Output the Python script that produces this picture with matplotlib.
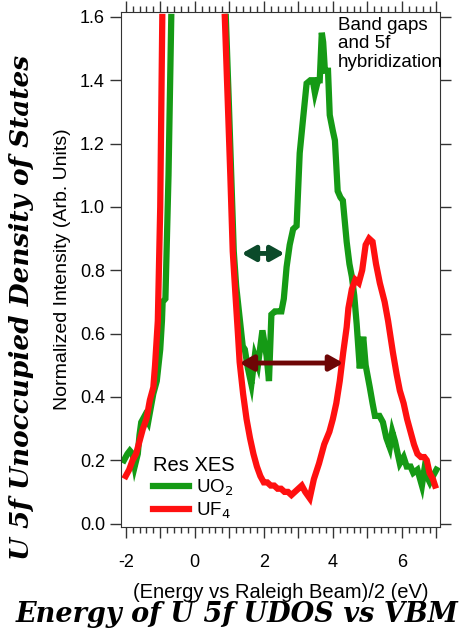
import matplotlib
matplotlib.use("Agg")
import matplotlib.pyplot as plt
import numpy as np
from matplotlib.ticker import MultipleLocator, FixedLocator, FuncFormatter

# -----------------------------
# Data
# -----------------------------

nan = np.nan

uo2_x = [-2.05, -1.95, -1.88, -1.8, -1.74, -1.65, -1.6, -1.55, -1.45, -1.35, -1.25, -1.2, -1.1,
         -1.0, -0.95, -0.93, -0.85, -0.76, -0.68, nan,
         0.9, 0.99, 1.13, 1.2, 1.3, 1.39, 1.45, 1.54, 1.64, 1.74, 1.83, 1.96, 2.08, 2.15, 2.22,
         2.32, 2.41, 2.51, 2.58, 2.66, 2.75, 2.85, 2.95, 3.04, 3.13, 3.24, 3.35, 3.42, 3.48, 3.57,
         3.62, 3.68, 3.72, 3.77, 3.86, 3.91, 4.0, 4.06, 4.14, 4.22, 4.29, 4.4, 4.48, 4.55, 4.62,
         4.69, 4.78, 4.83, 4.88, 4.95, 5.07, 5.15, 5.22, 5.35, 5.45, 5.55, 5.65, 5.72, 5.8, 5.88,
         5.94, 6.05, 6.14, 6.25, 6.33, 6.45, 6.58, 6.65, 6.72, 6.81, 6.9, 7.0]
uo2_y = [0.2, 0.22, 0.23, 0.22, 0.18, 0.22, 0.28, 0.32, 0.34, 0.32, 0.38, 0.41, 0.45,
         0.55, 0.64, 0.7, 0.71, 1.1, 1.6, nan,
         1.6, 1.32, 0.86, 0.75, 0.65, 0.56, 0.55, 0.49, 0.44, 0.53, 0.5, 0.61, 0.53, 0.45, 0.66,
         0.67, 0.67, 0.67, 0.71, 0.81, 0.88, 0.93, 0.94, 1.17, 1.27, 1.39, 1.40, 1.40, 1.36, 1.40,
         1.40, 1.55, 1.52, 1.43, 1.43, 1.29, 1.24, 1.21, 1.05, 1.03, 1.02, 0.89, 0.82, 0.78, 0.72,
         0.63, 0.49, 0.55, 0.59, 0.5, 0.43, 0.38, 0.34, 0.34, 0.32, 0.27, 0.24, 0.29, 0.26, 0.22,
         0.19, 0.21, 0.18, 0.18, 0.16, 0.17, 0.12, 0.17, 0.15, 0.13, 0.15, 0.17]

uf4_x = [-2.0, -1.9, -1.8, -1.7, -1.6, -1.5, -1.4, -1.3, -1.2, -1.15, -1.07, -1.0, -0.94, nan,
         0.87, 0.96, 1.03, 1.1, 1.18, 1.25, 1.3, 1.4, 1.5, 1.6, 1.7, 1.8, 1.9, 2.0, 2.1, 2.2,
         2.3, 2.4, 2.5, 2.6, 2.7, 2.8, 2.9, 3.0, 3.1, 3.2, 3.33, 3.45, 3.6, 3.75, 3.9, 4.0, 4.1,
         4.2, 4.3, 4.4, 4.45, 4.55, 4.65, 4.75, 4.85, 4.95, 5.05, 5.15, 5.25, 5.36, 5.5, 5.6,
         5.74, 5.85, 5.94, 6.05, 6.15, 6.25, 6.35, 6.45, 6.55, 6.65, 6.72, 6.8, 6.9, 6.96]
uf4_y = [0.15, 0.17, 0.2, 0.22, 0.26, 0.3, 0.33, 0.39, 0.43, 0.5, 0.64, 1.0, 1.6, nan,
         1.6, 1.32, 1.1, 0.86, 0.72, 0.6, 0.51, 0.41, 0.33, 0.27, 0.22, 0.18, 0.15, 0.13, 0.13, 0.12,
         0.12, 0.11, 0.11, 0.1, 0.1, 0.09, 0.1, 0.11, 0.12, 0.1, 0.08, 0.14, 0.19, 0.25, 0.29, 0.33, 0.38,
         0.45, 0.54, 0.62, 0.68, 0.74, 0.77, 0.76, 0.8, 0.88, 0.9, 0.89, 0.82, 0.76, 0.7, 0.64,
         0.54, 0.47, 0.42, 0.38, 0.33, 0.29, 0.25, 0.22, 0.21, 0.21, 0.2, 0.16, 0.14, 0.12]

# band gap arrows: (x_start, x_end, y)
gap_uo2 = (1.36, 2.6, 0.853)
gap_uf4 = (1.3, 4.3, 0.507)

GREEN = "#159a15"
RED = "#ff1010"

# -----------------------------
# Figure
# -----------------------------

plt.rcParams["font.family"] = ["Liberation Sans", "DejaVu Sans"]

fig = plt.figure(figsize=(4.74, 6.4), dpi=100)
ax = fig.add_axes([0.255, 0.177, 0.673, 0.804])

ax.plot(uo2_x, uo2_y, color=GREEN, lw=4.5, solid_joinstyle="miter", label="UO$_2$")
ax.plot(uf4_x, uf4_y, color=RED, lw=4.5, solid_joinstyle="miter", label="UF$_4$")

ax.set_xlim(-2.14, 7.1)
ax.set_ylim(-0.01, 1.615)

# ticks: out on all four sides, labels only bottom / left
ax.xaxis.set_major_locator(FixedLocator(np.arange(-2, 8, 1)))
ax.xaxis.set_major_formatter(FuncFormatter(lambda v, p: "" if int(round(v)) % 2 else f"{int(round(v))}"))
ax.xaxis.set_minor_locator(MultipleLocator(0.2))
ax.yaxis.set_major_locator(MultipleLocator(0.2))
ax.yaxis.set_major_formatter(FuncFormatter(lambda v, p: f"{v:.1f}"))
ax.tick_params(axis="both", which="major", direction="out", length=8, width=1, labelsize=13,
               color="#333333")
ax.tick_params(axis="x", which="minor", direction="out", length=4, width=1, color="#333333")
ax.tick_params(axis="x", which="both", top=True)
ax.tick_params(axis="y", which="major", right=True)
ax.tick_params(axis="x", pad=12)
for s in ax.spines.values():
    s.set_color("#333333")

ax.set_xlabel("(Energy vs Raleigh Beam)/2 (eV)", fontsize=14.5, labelpad=8)
ax.set_ylabel("Normalized Intensity (Arb. Units)", fontsize=14, labelpad=6)

ax.text(4.15, 1.6, "Band gaps\nand 5f\nhybridization", fontsize=13.5, va="top", ha="left",
        linespacing=1.1)

for (x0, x1, y), col in [(gap_uo2, "#0b4a2a"), (gap_uf4, "#6e0606")]:
    ax.annotate("", xy=(x1, y), xytext=(x0, y),
                arrowprops=dict(arrowstyle="<|-|>,head_length=0.8,head_width=0.45",
                                lw=3.5, color=col, shrinkA=0, shrinkB=0))

leg = ax.legend(title="Res XES", loc="lower left", bbox_to_anchor=(0.06, -0.015), frameon=False,
                fontsize=13.5, title_fontsize=14.5, handlelength=1.9, handletextpad=0.4,
                labelspacing=0.15, borderpad=0.2)
leg._legend_box.align = "left"

# outer cursive-ish labels
fig.text(0.045, 0.52, "U 5f Unoccupied Density of States", rotation=90, ha="center", va="center",
         fontsize=19, family="DejaVu Serif", style="italic", weight="bold")
fig.text(0.5, 0.04, "Energy of U 5f UDOS vs VBM", ha="center", va="center",
         fontsize=19.5, family="DejaVu Serif", style="italic", weight="bold")

fig.savefig("out.png", dpi=100)
